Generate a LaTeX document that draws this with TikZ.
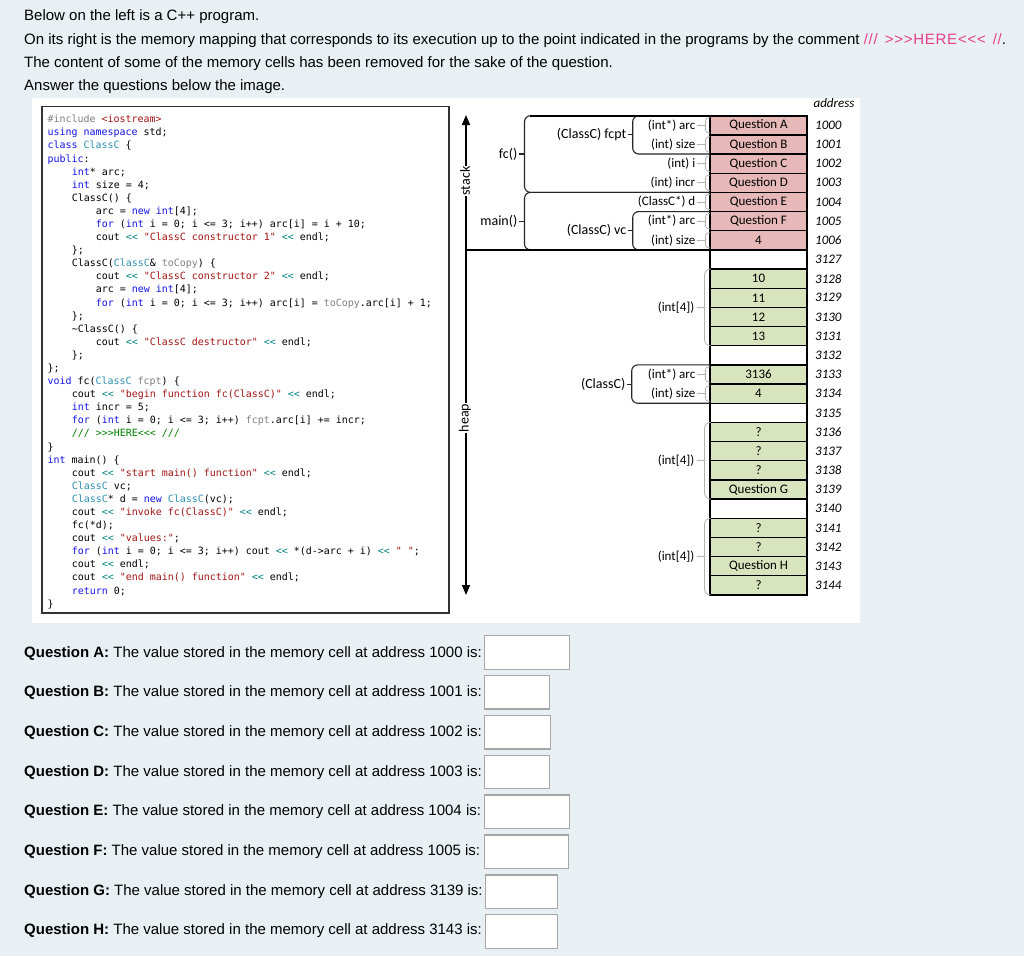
\documentclass[tikz,border=0pt]{standalone}
\usepackage{fontspec}
\setmainfont{Liberation Sans}
\setmonofont{DejaVu Sans Mono}
\newfontfamily\calib{Carlito}
\usetikzlibrary{arrows.meta}
\definecolor{bgc}{RGB}{233,240,243}
\definecolor{pinkc}{RGB}{230,185,184}
\definecolor{greenc}{RGB}{215,228,189}
\definecolor{hotpink}{RGB}{232,62,140}
\definecolor{kwblue}{RGB}{20,20,235}
\definecolor{tyteal}{RGB}{43,145,175}
\definecolor{strred}{RGB}{163,21,21}
\definecolor{opteal}{RGB}{0,128,128}
\definecolor{pargray}{RGB}{128,128,128}
\definecolor{cmgreen}{RGB}{0,128,0}
\newcommand\cKw[1]{\textcolor{kwblue}{#1}}
\newcommand\cTy[1]{\textcolor{tyteal}{#1}}
\newcommand\cSt[1]{\textcolor{strred}{#1}}
\newcommand\cOp[1]{\textcolor{opteal}{#1}}
\newcommand\cPa[1]{\textcolor{pargray}{#1}}
\newcommand\cCm[1]{\textcolor{cmgreen}{#1}}
\newcommand\cPp[1]{\textcolor{pargray}{#1}}
\newcommand\cl[3]{\node[codel] (L#1) at ({47.5+24.08*#2},{122.8+13.09*(#1-1)}) {#3};}
\begin{document}
\begin{tikzpicture}[x=1pt,y=-1pt,
  intro/.style={anchor=base west, inner sep=0pt, font=\fontsize{15}{18}\selectfont},
  codel/.style={anchor=base west, inner sep=0pt, font=\ttfamily\fontsize{9.97}{12}\selectfont},
  lbl/.style={inner sep=0pt, font=\calib\fontsize{13}{15}\selectfont},
  glbl/.style={inner sep=0pt, font=\calib\fontsize{14}{16}\selectfont},
  cell/.style={draw=black, line width=1.3pt, minimum width=97pt, minimum height=19.17pt, inner sep=0pt, font=\calib\fontsize{13}{15}\selectfont},
  addr/.style={anchor=west, inner sep=0pt, font=\calib\itshape\fontsize{13}{15}\selectfont},
  brk/.style={draw=black!85, line width=1.1pt, rounded corners=6pt},
  gbrk/.style={draw=black!30, line width=0.8pt, rounded corners=3pt},
  ansbox/.style={draw=black!35, line width=1.4pt, fill=white, inner sep=0pt},
  axis/.style={line width=1.4pt, -{Triangle[length=10pt,width=8pt]}},
]
\useasboundingbox (0,0) rectangle (1024,956);
\fill[bgc] (0,0) rectangle (1024,956);
\fill[white] (31.7,98.3) rectangle (860,623);

% intro text
\node[intro] (t1) at (24,20.7) {Below on the left is a C++ program.};
\node[intro] (t2) at (24,44) {On its right is the memory mapping that corresponds to its execution up to the point indicated in the programs by the comment \textcolor{hotpink}{\addfontfeature{LetterSpace=5}/{}/{}/\hspace{7pt}>{}>{}>HERE<{}<{}<\hspace{7pt}/{}/}.};
\node[intro] (t3) at (24,67.3) {The content of some of the memory cells has been removed for the sake of the question.};
\node[intro] (t4) at (24,90.6) {Answer the questions below the image.};

% code box
\draw[draw=black!80, line width=1.6pt, fill=white] (41.7,106.3) rectangle (449,613);
\cl{1}{0}{\cPp{\#include} \cSt{<iostream>}}
\cl{2}{0}{\cKw{using} \cKw{namespace} std;}
\cl{3}{0}{\cKw{class} \cTy{ClassC} \{}
\cl{4}{0}{\cKw{public}:}
\cl{5}{1}{\cKw{int}* arc;}
\cl{6}{1}{\cKw{int} size = 4;}
\cl{7}{1}{ClassC() \{}
\cl{8}{2}{arc = \cKw{new} \cKw{int}[4];}
\cl{9}{2}{\cKw{for} (\cKw{int} i = 0; i <= 3; i++) arc[i] = i + 10;}
\cl{10}{2}{cout \cOp{<<} \cSt{"ClassC constructor 1"} \cOp{<<} endl;}
\cl{11}{1}{\};}
\cl{12}{1}{ClassC(\cTy{ClassC}\& \cPa{toCopy}) \{}
\cl{13}{2}{cout \cOp{<<} \cSt{"ClassC constructor 2"} \cOp{<<} endl;}
\cl{14}{2}{arc = \cKw{new} \cKw{int}[4];}
\cl{15}{2}{\cKw{for} (\cKw{int} i = 0; i <= 3; i++) arc[i] = \cPa{toCopy}.arc[i] + 1;}
\cl{16}{1}{\};}
\cl{17}{1}{\textasciitilde ClassC() \{}
\cl{18}{2}{cout \cOp{<<} \cSt{"ClassC destructor"} \cOp{<<} endl;}
\cl{19}{1}{\};}
\cl{20}{0}{\};}
\cl{21}{0}{\cKw{void} fc(\cTy{ClassC} \cPa{fcpt}) \{}
\cl{22}{1}{cout \cOp{<<} \cSt{"begin function fc(ClassC)"} \cOp{<<} endl;}
\cl{23}{1}{\cKw{int} incr = 5;}
\cl{24}{1}{\cKw{for} (\cKw{int} i = 0; i <= 3; i++) \cPa{fcpt}.arc[i] += incr;}
\cl{25}{1}{\cCm{/// >>>HERE<<< ///}}
\cl{26}{0}{\}}
\cl{27}{0}{\cKw{int} main() \{}
\cl{28}{1}{cout \cOp{<<} \cSt{"start main() function"} \cOp{<<} endl;}
\cl{29}{1}{\cTy{ClassC} vc;}
\cl{30}{1}{\cTy{ClassC}* d = \cKw{new} \cTy{ClassC}(vc);}
\cl{31}{1}{cout \cOp{<<} \cSt{"invoke fc(ClassC)"} \cOp{<<} endl;}
\cl{32}{1}{fc(*d);}
\cl{33}{1}{cout \cOp{<<} \cSt{"values:"};}
\cl{34}{1}{\cKw{for} (\cKw{int} i = 0; i <= 3; i++) cout \cOp{<<} *(d->arc + i) \cOp{<<} \cSt{" "};}
\cl{35}{1}{cout \cOp{<<} endl;}
\cl{36}{1}{cout \cOp{<<} \cSt{"end main() function"} \cOp{<<} endl;}
\cl{37}{1}{\cKw{return} 0;}
\cl{38}{0}{\}}

% memory cells
\node[addr, anchor=center] (addrhead) at (834,103) {address};
\foreach \i/\v/\a/\f in {0/Question A/1000/pinkc, 1/Question B/1001/pinkc, 2/Question C/1002/pinkc,
  3/Question D/1003/pinkc, 4/Question E/1004/pinkc, 5/Question F/1005/pinkc, 6/4/1006/pinkc,
  7//3127/white, 8/10/3128/greenc, 9/11/3129/greenc, 10/12/3130/greenc, 11/13/3131/greenc,
  12//3132/white, 13/3136/3133/greenc, 14/4/3134/greenc, 15//3135/white,
  16/?/3136/greenc, 17/?/3137/greenc, 18/?/3138/greenc, 19/Question G/3139/greenc,
  20//3140/white, 21/?/3141/greenc, 22/?/3142/greenc, 23/Question H/3143/greenc, 24/?/3144/greenc}{
  \node[cell, fill=\f] (c\a) at (758.5,{115.7+19.17*(\i+0.5)}) {\v};
  \node[addr] (a\a) at (815,{115.7+19.17*(\i+0.5)}) {\a};
}

% field labels with small gray brackets
\foreach \i/\t in {0/{(int*) arc},1/{(int) size},2/{(int) i},3/{(int) incr},4/{(ClassC*) d},
  5/{(int*) arc},6/{(int) size},13/{(int*) arc},14/{(int) size}}{
  \pgfmathsetmacro\yt{115.7+19.17*\i}
  \draw[gbrk] (710,{\yt+2}) -- (705.5,{\yt+2}) -- (705.5,{\yt+17.17}) -- (710,{\yt+17.17});
  \draw[draw=black!30, line width=0.8pt] (705.5,{\yt+9.585}) -- (697,{\yt+9.585});
  \node[lbl, anchor=east] (f\i) at (695.5,{\yt+9.585}) {\t};
}

% int[4] gray brackets
\foreach \s/\n in {8/a,16/b,21/c}{
  \pgfmathsetmacro\yt{115.7+19.17*\s}
  \pgfmathsetmacro\yb{\yt+4*19.17}
  \pgfmathsetmacro\ym{\yt+2*19.17}
  \draw[gbrk, rounded corners=6pt] (710,\yt) -- (704.5,\yt) -- (704.5,\yb) -- (710,\yb);
  \draw[draw=black!30, line width=0.8pt] (704.5,\ym) -- (696.5,\ym);
  \node[lbl, anchor=east] (arr\n) at (694.5,\ym) {(int[4])};
}

% group brackets
\draw[brk] (710,115.7) -- (524.5,115.7) -- (524.5,192.38) -- (710,192.38);
\draw[brk] (524.5,154.04) -- (518.5,154.04);
\node[glbl, anchor=east] (gfc) at (517.5,154.04) {fc()};
\draw[brk] (710,192.38) -- (524.5,192.38) -- (524.5,249.89) -- (710,249.89);
\draw[brk] (524.5,221.1) -- (518.5,221.1);
\node[glbl, anchor=east] (gmain) at (517.5,221.1) {main()};
\draw[brk] (710,115.7) -- (632.7,115.7) -- (632.7,154.04) -- (710,154.04);
\draw[brk] (632.7,134.87) -- (627.5,134.87);
\node[glbl, anchor=east] (gfcpt) at (626.5,134.87) {(ClassC) fcpt};
\draw[brk] (710,211.55) -- (632.7,211.55) -- (632.7,249.89) -- (710,249.89);
\draw[brk] (632.7,230.72) -- (627.5,230.72);
\node[glbl, anchor=east] (gvc) at (626.5,230.72) {(ClassC) vc};
\draw[brk] (710,364.91) -- (631.7,364.91) -- (631.7,403.25) -- (710,403.25);
\draw[brk] (631.7,384.08) -- (626.5,384.08);
\node[glbl, anchor=east] (gheap) at (625.5,384.08) {(ClassC)};

% thick separators
\draw[line width=2.4pt] (530,115.7) -- (807.6,115.7);
\draw[line width=2.4pt] (466,249.89) -- (807.6,249.89);

% stack / heap axis
\coordinate (amid) at (466,249.89);
\coordinate (atop) at (466,115);
\coordinate (abot) at (466,595);
\draw[axis] (amid) -- (atop);
\draw[axis] (amid) -- (abot);
\node[glbl, rotate=90, fill=white, inner sep=1pt] (stk) at (465,181) {stack};
\node[glbl, rotate=90, fill=white, inner sep=1pt] (hp) at (465,418) {heap};

% questions
\foreach \k/\L/\ad/\bx/\bw in {0/A/1000/484/85, 1/B/1001/484/65, 2/C/1002/484/66, 3/D/1003/484/65,
  4/E/1004/484/85, 5/F/1005/483.5/84.5, 6/G/3139/485/72, 7/H/3143/485/72}{
  \node[intro] (q\L) at (24,{657+39.7*\k}) {\textbf{Question \L:} The value stored in the memory cell at address \ad{} is:};
  \node[ansbox, anchor=north west, minimum width=\bw, minimum height=33.5] (b\L) at (\bx,{635+39.86*\k}) {};
}
\end{tikzpicture}
\end{document}
